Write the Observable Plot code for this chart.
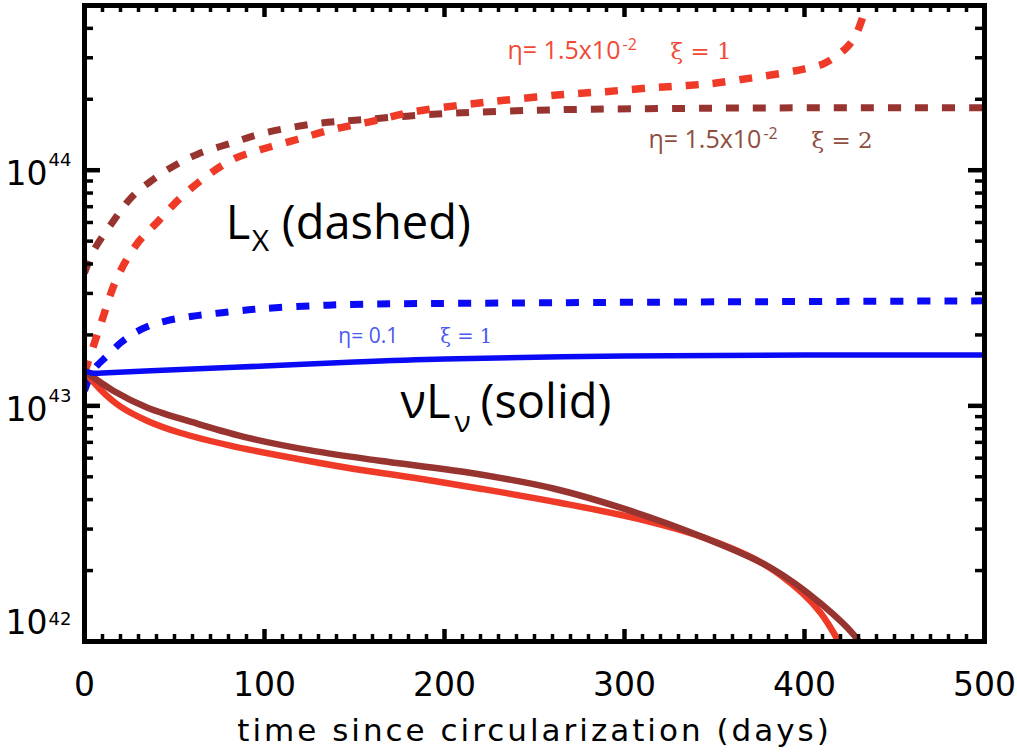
<!DOCTYPE html>
<html><head><meta charset="utf-8">
<script src="https://cdn.jsdelivr.net/npm/d3@7"></script>
<script src="https://cdn.jsdelivr.net/npm/@observablehq/plot@0.6"></script>
<style>body{margin:0;background:#fff}</style>
</head><body><div id="chart"></div>
<script>
// ---- data: time since circularization (days), luminosity (erg/s) ----
const redLx = [[0,1.38e43],[9,2.22e43],[18,3.48e43],[29,4.85e43],[41,6.08e43],[53,7.60e43],[68,9.45e43],[83,1.117e44],[99,1.23e44],[118,1.35e44],[138,1.49e44],[161,1.62e44],[181,1.76e44],[213,1.905e44],[233,1.98e44],[264,2.09e44],[291,2.16e44],[316,2.24e44],[335,2.29e44],[350,2.34e44],[370,2.46e44],[390,2.60e44],[400,2.69e44],[410,2.818e44],[415,2.951e44],[420,3.141e44],[424,3.35e44],[428,3.673e44],[431,4.169e44],[434,4.898e44],[436,5.623e44],[438,6.5e44]];
const brownLx = [[0,3.66e43],[5,4.54e43],[16,6.08e43],[25.6,7.60e43],[36.7,8.97e43],[49.4,1.04e44],[62.8,1.17e44],[81,1.30e44],[99.4,1.435e44],[127,1.57e44],[155,1.64e44],[196,1.73e44],[233,1.78e44],[270,1.81e44],[335,1.83e44],[400,1.84e44],[500,1.84e44]];
const blueLx = [[0,1.16e43],[5,1.42e43],[13,1.64e43],[20,1.85e43],[27,2.02e43],[35,2.17e43],[46,2.30e43],[60,2.40e43],[75,2.48e43],[90,2.55e43],[100,2.59e43],[127,2.66e43],[155,2.70e43],[231,2.73e43],[340,2.76e43],[500,2.79e43]];
const blueNuLnu = [[0,1.406e43],[5,1.375e43],[10,1.38e43],[50,1.422e43],[100,1.476e43],[150,1.535e43],[200,1.581e43],[300,1.629e43],[400,1.644e43],[500,1.644e43]];
const redNuLnu = [[0,1.406e43],[8.9,1.17e43],[20,9.92e42],[35,8.63e42],[53,7.69e42],[81,6.78e42],[109,6.14e42],[146,5.46e42],[183,4.95e42],[220,4.45e42],[264,3.88e42],[307,3.32e42],[344,2.76e42],[377,2.14e42],[399,1.60e42],[409,1.32e42],[418,1.03e42],[421,0.93e42]];
const brownNuLnu = [[0,1.406e43],[16,1.159e43],[35,9.82e42],[63,8.39e42],[91,7.31e42],[127,6.44e42],[164,5.85e42],[214,5.20e42],[261,4.45e42],[303,3.59e42],[344,2.76e42],[381,2.06e42],[409,1.45e42],[429,1.03e42],[432,0.93e42]];

const xMajor = [0, 100, 200, 300, 400, 500];
const xMinor = d3.range(10, 500, 10).filter(v => v % 100 !== 0);
const yMajor = [1e42, 1e43, 1e44];
const yMinor = [2e42,3e42,4e42,5e42,6e42,7e42,8e42,9e42,2e43,3e43,4e43,5e43,6e43,7e43,8e43,9e43,2e44,3e44,4e44];

const xLabel = "time since circularization (days)";
const annotations = [
  {t: 235, L: 2.95e44, eta: "η= 1.5x10", sup: "-2", xi: "ξ = 1", color: "#f04a36"},
  {t: 313.3, L: 1.24e44, eta: "η= 1.5x10", sup: "-2", xi: "ξ = 2", color: "#8f4d3e"}
];
const blueAnnotation = [{t: 141, L: 1.85e43, eta: "η= 0.1", xi: "ξ = 1", color: "#4a58f0"}];
const lxLabel = [{t: 78.5, L: 5.11e43}];
const nuLabel = [{t: 175.6, L: 8.89e42}];

const RED = "#f03a28", BROWN = "#983430", BLUE = "#0a0af5";
const rows = a => a.map(([t, L]) => ({t, L}));
const dash = "13,14";
const CURVE = "catmull-rom";
const dashed = {strokeDasharray: dash, strokeLinecap: "butt", curve: CURVE, clip: true};
const solid = {strokeLinecap: "butt", curve: CURVE, clip: true};

const PH = 636, PW = 900;
const chart = Plot.plot({
  width: 1017, height: 754,
  marginLeft: 84, marginRight: 33, marginTop: 5, marginBottom: 113,
  style: {background: "white", fontFamily: "DejaVu Sans"},
  x: {domain: [0, 500], axis: null},
  y: {type: "log", domain: [1e42, 5e44], axis: null},
  color: {type: "identity"},
  marks: [
    Plot.line(rows(brownLx), {x: "t", y: "L", stroke: BROWN, strokeWidth: 7, ...dashed}),
    Plot.line(rows(redLx), {x: "t", y: "L", stroke: RED, strokeWidth: 7.5, ...dashed}),
    Plot.line(rows(blueLx), {x: "t", y: "L", stroke: BLUE, strokeWidth: 7, ...dashed}),
    Plot.line(rows(redNuLnu), {x: "t", y: "L", stroke: RED, strokeWidth: 6.5, ...solid}),
    Plot.line(rows(brownNuLnu), {x: "t", y: "L", stroke: BROWN, strokeWidth: 6.5, ...solid}),
    Plot.line(rows(blueNuLnu), {x: "t", y: "L", stroke: BLUE, strokeWidth: 5.5, ...solid}),
    // annotations
    Plot.text(annotations, {x: "t", y: "L", text: "eta", fill: "color", textAnchor: "start", lineAnchor: "bottom", fontSize: 25, fontFamily: "Open Sans"}),
    Plot.text(annotations, {x: "t", y: "L", text: "sup", fill: "color", textAnchor: "start", lineAnchor: "bottom", dx: 115, dy: -9, fontSize: 16, fontFamily: "Open Sans"}),
    Plot.text(annotations, {x: "t", y: "L", text: "xi", fill: "color", textAnchor: "start", lineAnchor: "bottom", dx: 163, fontSize: 23, fontFamily: "DejaVu Serif"}),
    Plot.text(blueAnnotation, {x: "t", y: "L", text: "eta", fill: "color", textAnchor: "start", lineAnchor: "bottom", fontSize: 21, fontFamily: "Open Sans"}),
    Plot.text(blueAnnotation, {x: "t", y: "L", text: "xi", fill: "color", textAnchor: "start", lineAnchor: "bottom", dx: 102, fontSize: 19.5, fontFamily: "DejaVu Serif"}),
    Plot.text(lxLabel, {x: "t", y: "L", text: () => "L", textAnchor: "start", lineAnchor: "bottom", fontSize: 47, fontFamily: "Open Sans", fill: "black"}),
    Plot.text(lxLabel, {x: "t", y: "L", text: () => "X", textAnchor: "start", lineAnchor: "bottom", dx: 26, dy: 12, fontSize: 30, fontFamily: "Open Sans", fill: "black"}),
    Plot.text(lxLabel, {x: "t", y: "L", text: () => "(dashed)", textAnchor: "start", lineAnchor: "bottom", dx: 56, fontSize: 47, fontFamily: "Open Sans", fill: "black"}),
    Plot.text(nuLabel, {x: "t", y: "L", text: () => "νL", textAnchor: "start", lineAnchor: "bottom", fontSize: 47, fontFamily: "Open Sans", fill: "black"}),
    Plot.text(nuLabel, {x: "t", y: "L", text: () => "ν", textAnchor: "start", lineAnchor: "bottom", dx: 54, dy: 14, fontSize: 30, fontFamily: "Open Sans", fill: "black"}),
    Plot.text(nuLabel, {x: "t", y: "L", text: () => "(solid)", textAnchor: "start", lineAnchor: "bottom", dx: 80, fontSize: 47, fontFamily: "Open Sans", fill: "black"}),
    // ticks (inward, all four sides)
    Plot.ruleX(xMajor, {x: d => d, insetTop: PH - 12, stroke: "black", strokeWidth: 4.5}),
    Plot.ruleX(xMinor, {x: d => d, insetTop: PH - 7, stroke: "black", strokeWidth: 3.5}),
    Plot.ruleX(xMajor, {x: d => d, insetBottom: PH - 12, stroke: "black", strokeWidth: 4.5}),
    Plot.ruleX(xMinor, {x: d => d, insetBottom: PH - 7, stroke: "black", strokeWidth: 3.5}),
    Plot.ruleY(yMajor, {y: d => d, insetRight: PW - 16, stroke: "black", strokeWidth: 4.5}),
    Plot.ruleY(yMinor, {y: d => d, insetRight: PW - 9, stroke: "black", strokeWidth: 3.5}),
    Plot.ruleY(yMajor, {y: d => d, insetLeft: PW - 16, stroke: "black", strokeWidth: 4.5}),
    Plot.ruleY(yMinor, {y: d => d, insetLeft: PW - 9, stroke: "black", strokeWidth: 3.5}),
    Plot.frame({stroke: "black", strokeWidth: 5}),
    // tick labels
    Plot.text(xMajor, {x: d => d, frameAnchor: "bottom", text: d => String(d), lineAnchor: "bottom", dy: 54, fontSize: 33, fill: "black"}),
    Plot.text(yMajor.slice(1), {y: d => d, frameAnchor: "left", text: () => "10", textAnchor: "end", lineAnchor: "bottom", dx: -37, dy: 15, fontSize: 33, fill: "black"}),
    Plot.text(yMajor.slice(1), {y: d => d, frameAnchor: "left", text: d => String(Math.round(Math.log10(d))), textAnchor: "start", lineAnchor: "bottom", dx: -36, dy: -4, fontSize: 18, fill: "black"}),
    Plot.text(yMajor.slice(0, 1), {y: d => d, frameAnchor: "left", text: () => "10", textAnchor: "end", lineAnchor: "bottom", dx: -37, dy: -8, fontSize: 33, fill: "black"}),
    Plot.text(yMajor.slice(0, 1), {y: d => d, frameAnchor: "left", text: d => String(Math.round(Math.log10(d))), textAnchor: "start", lineAnchor: "bottom", dx: -36, dy: -17, fontSize: 18, fill: "black"}),
    Plot.text([xLabel], {x: () => 250, frameAnchor: "bottom", text: d => d, lineAnchor: "bottom", dy: 99, fontSize: 31, fill: "black"})
  ]
});
d3.select(chart).selectAll("text").filter(function() { return this.textContent === xLabel; }).attr("letter-spacing", "3px");
document.getElementById("chart").appendChild(chart);
</script>
</body></html>
